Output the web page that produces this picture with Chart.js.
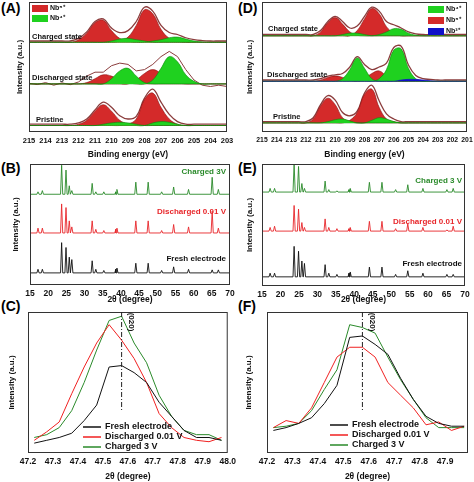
<!DOCTYPE html>
<html><head><meta charset="utf-8">
<script src="https://cdn.jsdelivr.net/npm/chart.js@4.4.0/dist/chart.umd.min.js"></script>
<style>
body{margin:0;background:#fff;width:474px;height:482px;position:relative;overflow:hidden;font-family:"Liberation Sans",Arial,sans-serif}
canvas{position:absolute}
.pl{position:absolute;font:bold 14px "Liberation Sans",Arial;color:#000}
</style></head><body>
<div class="pl" style="left:1px;top:0px">(A)</div>
<div class="pl" style="left:238px;top:0px">(D)</div>
<div class="pl" style="left:1px;top:160px">(B)</div>
<div class="pl" style="left:238px;top:160px">(E)</div>
<div class="pl" style="left:1px;top:298px">(C)</div>
<div class="pl" style="left:238px;top:298px">(F)</div>
<canvas id="cA" style="left:0;top:0" width="237" height="160"></canvas>
<canvas id="cD" style="left:237px;top:0" width="237" height="160"></canvas>
<canvas id="cB" style="left:0;top:160px" width="237" height="145"></canvas>
<canvas id="cE" style="left:237px;top:160px" width="237" height="145"></canvas>
<canvas id="cC" style="left:0;top:300px" width="237" height="182"></canvas>
<canvas id="cF" style="left:237px;top:300px" width="237" height="182"></canvas>
<script>
// ---------- DATA ----------
// XPS panel A: binding energy grid 215 -> 203 step 0.5
const xA = [215,214.5,214,213.5,213,212.5,212,211.5,211,210.5,210,209.5,209,208.5,208,207.5,207,206.5,206,205.5,205,204.5,204,203.5,203];
const A_pris_red1 = [0,0,0,0,0,0,1,4,11,16,11,4,1,0,0,0,0,0,0,0,0,0,0,0,0];
const A_pris_red2 = [0,0,0,0,0,0,0,0,0,0,0,0,1,5,20,25,14,5,1,0,0,0,0,0,0];
const A_pris_grn1 = [0,0,0,0,0,0,0,0,0,1,2,2.5,2,1,0,0,0,0,0,0,0,0,0,0,0];
const A_pris_grn2 = [0,0,0,0,0,0,0,0,0,0,0,0,0,0,0,2,3,2.5,1,0,0,0,0,0,0];
const A_dis_red1 = [0,0,0,0,0,0,0,1,4,7,6,3,1,0,0,0,0,0,0,0,0,0,0,0,0];
const A_dis_grn1 = [0,0,0,0,0,0,0,0,0,0,4,10,12,6,1,0,0,0,0,0,0,0,0,0,0];
const A_dis_red2 = [0,0,0,0,0,0,0,0,0,0,0,0,0,3,8,11,8,3,1,0,0,0,0,0,0];
const A_dis_grn2 = [0,0,0,0,0,0,0,0,0,0,0,0,0,0,0,3,12,21,17,7,2,0,0,0,0];
const A_dis_raw = [0.5,-0.5,1,-1,0.8,-0.6,1.5,6,9,9,14,16,15,10,11,15,21,25,21,11,3,-1,-2,-1,-2];
const A_chg_red1 = [0,0,0,0,0,0,2,7,15,17,9,3,1,0,0,0,0,0,0,0,0,0,0,0,0];
const A_chg_red2 = [0,0,0,0,0,0,0,0,0,0,0,1,4,13,25,22,10,3,1,0,0,0,0,0,0];
const A_chg_grn1 = [0,0,0,0,0,0,0,0,0,0,1,2.5,3,2,1,0,0,0,0,0,0,0,0,0,0];
const A_chg_grn2 = [0,0,0,0,0,0,0,0,0,0,0,0,0,0,0,1,2,3.5,4,2.5,1,0.3,0,0,0];
const A_base = [5,37,69];
const A_ticks = [215,214,213,212,211,210,209,208,207,206,205,204,203];

// XPS panel D: grid 215 -> 201 step 0.5
const xD = [215,214.5,214,213.5,213,212.5,212,211.5,211,210.5,210,209.5,209,208.5,208,207.5,207,206.5,206,205.5,205,204.5,204,203.5,203,202.5,202,201.5,201];
const D_pris_red1 = [0,0,0,0,0,0,0,3,13,19,14,4,1,0,0,0,0,0,0,0,0,0,0,0,0,0,0,0,0];
const D_pris_red2 = [0,0,0,0,0,0,0,0,0,0,0,0,2,8,22,26,12,3,1,0,0,0,0,0,0,0,0,0,0];
const D_pris_grn1 = [0,0,0,0,0,0,0,0,0,1,2.5,3,1.5,0,0,0,0,0,0,0,0,0,0,0,0,0,0,0,0];
const D_pris_grn2 = [0,0,0,0,0,0,0,0,0,0,0,0,0,0,0,2,4,3,1,0,0,0,0,0,0,0,0,0,0];
const D_dis_red1 = [0,0,0,0,0,0,0,0,1,3,4,3,1,0,0,0,0,0,0,0,0,0,0,0,0,0,0,0,0];
const D_dis_grn1 = [0,0,0,0,0,0,0,0,0,0,0,2,9,18,10,2,0,0,0,0,0,0,0,0,0,0,0,0,0];
const D_dis_red2 = [0,0,0,0,0,0,0,0,0,0,0,0,0,0,2,6,8,4,1,0,0,0,0,0,0,0,0,0,0];
const D_dis_grn2 = [0,0,0,0,0,0,0,0,0,0,0,0,0,0,0,0,2,9,24,25,10,2,0,0,0,0,0,0,0];
const D_dis_blu = [0,0,0,0,0,0,0,0,0,0,0,0,0,0,0,0,0,0,0,1,1.5,1.5,1,0.5,0,0,0,0,0];
const D_chg_red1 = [0,0,0,0,0,0,0,0,3,10,14,9,3,0.5,0,0,0,0,0,0,0,0,0,0,0,0,0,0,0];
const D_chg_red2 = [0,0,0,0,0,0,0,0,0,0,0,0,0,4,13,21,17,7,2,0,0,0,0,0,0,0,0,0,0];
const D_chg_grn1 = [0,0,0,0,0,0,0,0,0,0,0,1,2,2,1,0,0,0,0,0,0,0,0,0,0,0,0,0,0];
const D_chg_grn2 = [0,0,0,0,0,0,0,0,0,0,0,0,0,0,0,0,1,3,5.5,5,2,0.5,0,0,0,0,0,0,0];
const D_base = [7,39,74];
const D_ticks = [215,214,213,212,211,210,209,208,207,206,205,204,203,202,201];

// XRD panels B / E: peak positions (2θ) and heights
const xrdPeaks = [17.2,18.4,23.7,24.9,25.8,26.5,32.1,33.1,35.3,38.6,38.9,44.1,47.5,51.2,54.5,58.6,65.1,66.8];
const B_fresh = [3,3,25,21,13,11,10,3,2,3,4,8,8,2,5,3,2.5,2.5];
const B_dis   = [4,4,24,21,10,5,10,3,2,3,4,10,10,2,7,5,18,4];
const B_chg   = [2,3,24,20,7,3,9,2,2,2,4,10,10,2,6,4,14,4];
const B_base = [10,43,75];
const E_fresh = [3,3,25,21,13,11,10,3,2,3,4,8,8,2,5,3,2,2];
const E_dis   = [3,4,21,18,7,3,10,3,2,2,3,8,8,2,6,3,1,4];
const E_chg   = [3,3,23,21,7,3,9,2,1,2,3,8,8,2,6,3,2,3];
const E_base = [7.5,45,77];
const xrdTicks = [15,20,25,30,35,40,45,50,55,60,65,70];

// (020) peak zoom panels C / F
const x020 = [47.225,47.275,47.325,47.375,47.425,47.475,47.525,47.575,47.625,47.675,47.725,47.775,47.825,47.875,47.925,47.975];
const C_fresh = [7,9,11,14,23,34,61,62,57,50,36,26,16,11,11,9];
const C_dis   = [9,15,22,42,61,78,91,80,67,50,28,18,11,9,8,11];
const C_chg   = [11,13,18,30,50,73,94,97,78,64,41,26,16,13,13,9];
const F_fresh = [16,18,21,25,35,48,82,83,77,70,53,38,26,21,19,19];
const F_dis   = [18,23,21,32,50,68,75,75,68,50,41,32,20,22,16,19];
const F_chg   = [18,19,21,30,45,59,91,89,85,68,52,38,25,18,18,18];
const peak020 = 47.575;

// ---------- HELPERS ----------
const RED='#d42a2a', REDE='#8a1010', GRN='#1fd11f', GRNE='#0a8a0a', BLU='#1010c8', ENV='#8b3c3c';
function comp(xs, h, base, fillC, edgeC){
  return {data: xs.map((x,i)=>({x, y: base + h[i]})), fill:{value:base}, backgroundColor:fillC,
    borderColor:edgeC, borderWidth:0.6, pointRadius:0, tension:0.4};
}
function env(xs, parts, base, extra){
  return {data: xs.map((x,i)=>({x, y: base + parts.reduce((s,p)=>s+p[i],0) + (extra||0)})), fill:false,
    borderColor:ENV, borderWidth:1.3, pointRadius:0, tension:0.4};
}
function line(xs, ys, color, w){
  return {data: xs.map((x,i)=>({x, y: ys[i]})), fill:false, borderColor:color, borderWidth:w||1, pointRadius:0, tension:0};
}
function xrd(h, base, color){
  const pts=[{x:15,y:base}];
  xrdPeaks.forEach((p,i)=>{pts.push({x:p-0.3,y:base},{x:p,y:base+h[i]},{x:p+0.3,y:base});});
  pts.push({x:70,y:base});
  pts.sort((a,b)=>a.x-b.x);
  return {data:pts, fill:false, borderColor:color, borderWidth:0.9, pointRadius:0, tension:0};
}
const decor = {
  id:'decor',
  afterDraw(ch, args, o){
    const c=ch.ctx, a=ch.chartArea;
    c.save();
    c.strokeStyle='#333'; c.lineWidth=1; c.strokeRect(a.left+0.5,a.top+0.5,a.right-a.left-1,a.bottom-a.top-1);
    c.fillStyle='#111'; c.font='bold 8px "Liberation Sans",Arial';
    c.translate(o.yTitleX,(a.top+a.bottom)/2); c.rotate(-Math.PI/2); c.textAlign='center'; c.textBaseline='middle';
    c.fillText('Intensity (a.u.)',0,0); c.restore();
    (o.texts||[]).forEach(t=>{c.save();c.fillStyle=t.c||'#111';c.font='bold '+(t.s||8)+'px "Liberation Sans",Arial';
      c.textAlign=t.a||'left';c.textBaseline='middle';c.fillText(t.t,t.x,t.y);c.restore();});
    (o.boxes||[]).forEach(b=>{c.save();c.fillStyle=b.c;c.fillRect(b.x,b.y,16,7);c.fillStyle='#111';
      c.font='bold 7px "Liberation Sans",Arial';c.textBaseline='middle';c.fillText(b.t,b.x+18,b.y+3.5);c.restore();});
    (o.lines||[]).forEach(l=>{c.save();c.strokeStyle=l.c;c.lineWidth=1.5;c.beginPath();c.moveTo(l.x,l.y);c.lineTo(l.x+18,l.y);c.stroke();
      c.fillStyle='#111';c.font='bold 9px "Liberation Sans",Arial';c.textBaseline='middle';c.fillText(l.t,l.x+22,l.y);c.restore();});
    if(o.vline){const xs=ch.scales.x, px=xs.getPixelForValue(o.vline.v);
      c.save();c.strokeStyle='#222';c.lineWidth=1;c.setLineDash([5,2,1,2]);c.beginPath();c.moveTo(px,a.top);c.lineTo(px,o.vline.bottom);c.stroke();
      c.setLineDash([]);c.translate(px+10,a.top+10);c.rotate(Math.PI/2);c.fillStyle='#111';c.font='bold 8px "Liberation Sans",Arial';
      c.textAlign='center';c.textBaseline='middle';c.fillText('(020)',0,0);c.restore();}
  }
};
function make(id, datasets, opt){
  const cv=document.getElementById(id);
  const H=cv.height;
  new Chart(cv,{type:'line',data:{datasets},plugins:[decor],options:{
    responsive:false,animation:false,
    layout:{padding:{left:opt.left,right:cv.width-opt.right,top:opt.top,bottom:0}},
    plugins:{legend:{display:false},tooltip:{enabled:false},decor:opt.decor},
    scales:{
      x:{type:'linear',min:opt.xmin,max:opt.xmax,reverse:!!opt.reverse,
        afterBuildTicks:s=>{s.ticks=opt.ticks.map(v=>({value:v}));},
        afterFit:s=>{s.height=H-opt.bottom;},
        grid:{display:false,drawOnChartArea:false,tickLength:3,color:'#333'},border:{display:false},
        ticks:{color:'#111',font:{size:opt.tf||8.5,weight:'bold'},padding:1,maxRotation:0,autoSkip:false,
          callback:v=>opt.fmt?opt.fmt(v):v},
        title:{display:true,text:opt.xtitle,color:'#111',font:{size:8.5,weight:'bold'},padding:{top:1,bottom:0}}},
      y:{display:false,min:0,max:100}
    }}});
}

// ---------- PANEL A ----------
(function(){
  const b=A_base, ds=[];
  [[A_pris_red1,A_pris_red2,A_pris_grn1,A_pris_grn2,b[0]],[A_dis_red1,A_dis_red2,A_dis_grn1,A_dis_grn2,b[1]],[A_chg_red1,A_chg_red2,A_chg_grn1,A_chg_grn2,b[2]]]
  .forEach(([r1,r2,g1,g2,bs],k)=>{
    ds.push(comp(xA,g1,bs,GRN,GRNE),comp(xA,g2,bs,GRN,GRNE),comp(xA,r1,bs,RED,REDE),comp(xA,r2,bs,RED,REDE));
    if(k===1) ds.push(line(xA,A_dis_raw.map(v=>v+bs),ENV,1));
    else ds.push(env(xA,[r1,r2,g1,g2],bs,1));
  });
  make('cA',ds,{left:29,right:227,top:2,bottom:132,xmin:203,xmax:215,reverse:true,ticks:A_ticks,tf:7.5,xtitle:'Binding energy (eV)',
    decor:{yTitleX:20,texts:[{t:'Charged state',x:32,y:37,s:7.5},{t:'Discharged state',x:32,y:78,s:7.5},{t:'Pristine',x:36,y:120,s:7.5}],
      boxes:[{c:RED,t:'Nb⁵⁺',x:32,y:5},{c:GRN,t:'Nb⁴⁺',x:32,y:15}]}});
})();
// ---------- PANEL D ----------
(function(){
  const b=D_base, ds=[];
  [[D_pris_red1,D_pris_red2,D_pris_grn1,D_pris_grn2,null,b[0]],[D_dis_red1,D_dis_red2,D_dis_grn1,D_dis_grn2,D_dis_blu,b[1]],[D_chg_red1,D_chg_red2,D_chg_grn1,D_chg_grn2,null,b[2]]]
  .forEach(([r1,r2,g1,g2,bl,bs])=>{
    const parts=[r1,r2,g1,g2];
    if(bl){ds.push(comp(xD,bl,bs,BLU,BLU));parts.push(bl);}
    ds.push(comp(xD,g1,bs,GRN,GRNE),comp(xD,g2,bs,GRN,GRNE),comp(xD,r1,bs,RED,REDE),comp(xD,r2,bs,RED,REDE));
    ds.push(env(xD,parts,bs,1));
  });
  make('cD',ds,{left:25,right:230,top:2,bottom:132,xmin:201,xmax:215,reverse:true,ticks:D_ticks,tf:6.8,xtitle:'Binding energy (eV)',
    decor:{yTitleX:13,texts:[{t:'Charged state',x:31,y:29,s:7.5},{t:'Discharged state',x:30,y:75,s:7.5},{t:'Pristine',x:36,y:117,s:7.5}],
      boxes:[{c:GRN,t:'Nb⁴⁺',x:191,y:6},{c:RED,t:'Nb⁵⁺',x:191,y:17},{c:BLU,t:'Nb³⁺',x:191,y:28}]}});
})();
// ---------- PANEL B / E ----------
make('cB',[xrd(B_fresh,B_base[0],'#111'),xrd(B_dis,B_base[1],'#e8262a'),xrd(B_chg,B_base[2],'#2a8a2a')],
  {left:30,right:230,top:4,bottom:125,xmin:15,xmax:70,ticks:xrdTicks,xtitle:'2θ (degree)',
   decor:{yTitleX:16,texts:[{t:'Charged 3V',x:226,y:12,c:'#2a8a2a',a:'right'},{t:'Discharged 0.01 V',x:226,y:52,c:'#e8262a',a:'right'},{t:'Fresh electrode',x:226,y:99,a:'right'}]}});
make('cE',[xrd(E_fresh,E_base[0],'#111'),xrd(E_dis,E_base[1],'#e8262a'),xrd(E_chg,E_base[2],'#2a8a2a')],
  {left:25,right:228,top:4,bottom:126,xmin:15,xmax:70,ticks:xrdTicks,xtitle:'2θ (degree)',
   decor:{yTitleX:13,texts:[{t:'Charged 3 V',x:225,y:21,c:'#2a8a2a',a:'right'},{t:'Discharged 0.01 V',x:225,y:62,c:'#e8262a',a:'right'},{t:'Fresh electrode',x:225,y:104,a:'right'}]}});
// ---------- PANEL C / F ----------
const t020=[47.2,47.3,47.4,47.5,47.6,47.7,47.8,47.9,48.0];
make('cC',[line(x020,C_fresh,'#111',1),line(x020,C_dis,'#f02020',1),line(x020,C_chg,'#2a8a2a',1)],
  {left:28,right:230,top:12,bottom:153,xmin:47.2,xmax:48.0,ticks:t020,fmt:v=>v.toFixed(1),xtitle:'2θ (degree)',
   decor:{yTitleX:12,vline:{v:peak020,bottom:110},lines:[{c:'#111',t:'Fresh electrode',x:83,y:127},{c:'#f02020',t:'Discharged 0.01 V',x:83,y:137},{c:'#2a8a2a',t:'Charged 3 V',x:83,y:147}]}});
make('cF',[line(x020,F_fresh,'#111',1),line(x020,F_dis,'#f02020',1),line(x020,F_chg,'#2a8a2a',1)],
  {left:30,right:231,top:12,bottom:153,xmin:47.2,xmax:47.99,ticks:t020.slice(0,8),fmt:v=>v.toFixed(1),xtitle:'2θ (degree)',
   decor:{yTitleX:12,vline:{v:peak020,bottom:112},lines:[{c:'#111',t:'Fresh electrode',x:93,y:125},{c:'#f02020',t:'Discharged 0.01 V',x:93,y:135},{c:'#2a8a2a',t:'Charged 3 V',x:93,y:145}]}});
</script>
</body></html>
